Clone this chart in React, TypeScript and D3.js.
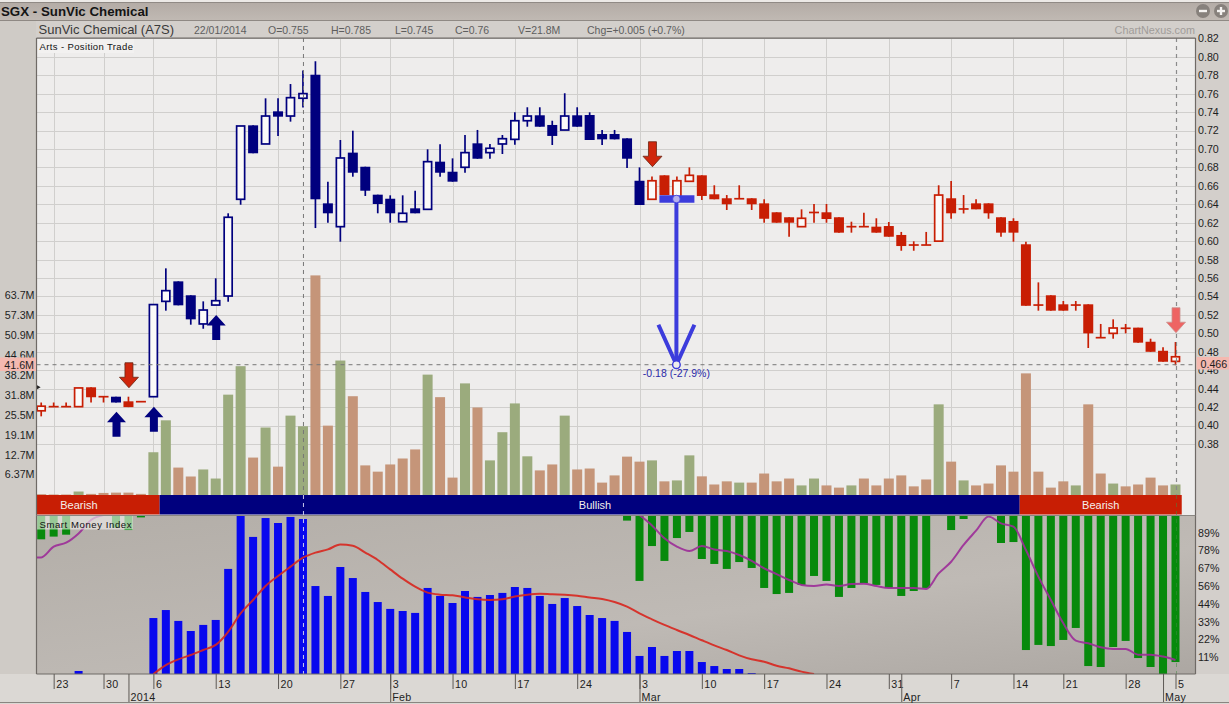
import React, { useEffect, useRef } from 'react';
import * as d3 from 'd3';

const width = 1229;
const height = 704;

// one entry per trading day, 20 Dec 2013 to 5 May 2014
const opens = [
  .416, .4205, .4205, .4205, .4415, .4313, .4313, .4263, .4259, .4313,
  .5347, .5564, .5413, .5102, .5307, .5405, .6454, .7256, .7054, .7408,
  .7357, .755, .7805, .641, .6157, .696, .6807, .6504, .646, .621,
  .6356, .6345, .6862, .6753, .6801, .7061, .696, .7054, .7104, .7306,
  .7365, .726, .7205, .7365, .7368, .7162, .7162, .7115, .6655, .6454,
  .6714, .648, .6649, .6714, .6508, .6465, .646, .6465, .641, .6313,
  .6259, .6157, .6311, .6313, .6259, .6157, .6157, .6157, .6164, .6067,
  .5958, .5958, .6, .6465, .6349, .641, .641, .6259, .6219, .5966,
  .5307, .5413, .5315, .5307, .5315, .4953, .5, .5055, .5062, .4909,
  .4811, .4696,
];
const highs = [
  .425, .425, .425, .4408, .4415, .4313, .4313, .4313, .4259, .5312,
  .5705, .5564, .5413, .5347, .5597, .6302, .7249, .7256, .7549, .7549,
  .7704, .785, .7951, .6645, .7097, .7198, .6807, .6504, .6497, .6497,
  .6547, .6996, .705, .6898, .7151, .7206, .7054, .7151, .7397, .7452,
  .7452, .7306, .7604, .7452, .7397, .7206, .7206, .7115, .68, .67,
  .6714, .67, .68, .6714, .6606, .65, .6606, .6465, .6454, .6313,
  .6259, .6345, .6403, .6403, .6259, .6211, .6309, .6248, .6208, .61,
  .5998, .61, .6606, .6652, .65, .6454, .641, .6259, .6248, .5994,
  .5553, .5413, .5351, .5351, .5315, .5102, .5152, .5102, .5062, .4942,
  .4849, .4906,
];
const lows = [
  .41, .4205, .4205, .4205, .425, .425, .425, .42, .4259, .4313,
  .5246, .5304, .5094, .505, .5307, .5343, .6395, .6953, .7054, .7141,
  .7296, .745, .6142, .62, .5994, .6699, .649, .6302, .62, .621,
  .6302, .6345, .6699, .6645, .6742, .6894, .6894, .6945, .7046, .7241,
  .7241, .7043, .7205, .7241, .7097, .7043, .7104, .6793, .6392, .6454,
  .65, .648, .6649, .6446, .6454, .6338, .646, .6338, .62, .62,
  .6048, .6157, .62, .62, .6092, .6092, .6157, .6092, .6048, .5896,
  .5896, .5958, .6, .6243, .63, .6345, .6243, .6048, .5994, .5299,
  .5246, .5246, .5246, .5246, .4841, .4953, .4942, .5, .4899, .48,
  .4692, .4654,
];
const closes = [
  .421, .4205, .4205, .4408, .4307, .4313, .425, .42, .4259, .5312,
  .5463, .5304, .5152, .5253, .5354, .6259, .7249, .6953, .7357, .735,
  .7556, .76, .6454, .6302, .6902, .6742, .6547, .6403, .6302, .6302,
  .6302, .6862, .6742, .6645, .696, .6894, .7007, .7111, .7306, .7357,
  .7241, .7141, .7357, .7241, .7097, .7104, .7104, .6894, .6392, .6655,
  .65, .6655, .6714, .649, .6454, .64, .646, .64, .6243, .62,
  .62, .6248, .6311, .624, .6092, .6157, .6157, .6092, .6048, .5947,
  .5958, .5958, .65, .6302, .6349, .6345, .6302, .6092, .6092, .5299,
  .5307, .5246, .5246, .5307, .5, .4953, .5058, .5055, .4899, .48,
  .4692, .4746,
];

// millions of shares
const volumes = [
  .1, 0, 0, .95, .2, .5, .6, .6, .2, 13.5,
  23.7, 8.6, 5.75, 8, 5.1, 31.9, 41, 11.8, 21.4, 8.9,
  25.2, 21.8, 70, 22, 42.8, 31.4, 9.3, 7.3, 9.6, 11.5,
  14.4, 38.3, 31.1, 5.4, 35.5, 27.8, 10.9, 19.9, 29.1, 12.2,
  7.7, 9.6, 25.2, 8, 8.3, 3.8, 6.1, 12.1, 10.5, 10.9,
  4.2, 4.5, 12.5, 5.8, 3.2, 4.2, 3.8, 3.8, 6.7, 4.2,
  5.1, 2.9, 5.1, 2.9, 2.2, 2.9, 5.1, 2.9, 5.1, 6.1,
  2.6, 4.8, 28.8, 10.5, 4.5, 2.9, 3.5, 9.3, 7.3, 38.7,
  7.3, 2.2, 4.2, 2.9, 28.8, 6.7, 3.5, 2.6, 3.2, 5.4,
  2.9, 3.2,
];
const greenVolumeDays = [3, 9, 10, 13, 14, 15, 16, 18, 20, 21, 24, 31, 34, 36, 37, 38, 39, 42, 49, 51, 52, 56, 61, 62, 65, 72, 74, 83, 86, 91];
const navyDays = [6, ...d3.range(9, 49)];

// smart money index, percent. Blue bars rise from 0, green bars hang from 100
const blueDays = [3, ...d3.range(9, 58)];
const blueValues = [
  2.5, 35.6, 40.6, 33.8, 27.5, 31.3, 34.4, 66.3, 100, 86.3,
  98.1, 95, 98.8, 97.5, 55.6, 49.4, 67.5, 60.6, 51.9, 45.6,
  41.3, 40, 38.8, 54.4, 49.4, 45, 52.5, 48.8, 50, 51.3,
  55, 54.4, 49.4, 44.4, 48.1, 43.1, 37.5, 35.6, 33.8, 26.9,
  11.9, 17.5, 11.9, 15, 15, 8.1, 5.6, 3.75, 3.75, 1.25,
];
const greenDays = [0, 1, 2, 6, 7, 8, ...d3.range(47, 72), 73, 74, 77, 78, ...d3.range(79, 92)];
const greenValues = [
  84.8, 86.5, 87.7, 92, 90.6, 98.5,
  96.5, 58.8, 80.6, 71.3, 85.6, 89.4, 72.5, 69.4, 66.3, 70.6,
  66.9, 54.4, 50.6, 51.3, 56.3, 61.9, 58.8, 48.8, 54.4, 57.5,
  56.3, 54.4, 49.4, 52.5, 54.4,
  90.6, 97.5, 82.5, 83.1,
  15.6, 18.8, 18.1, 21.9, 29.4, 5.6, 5, 17.5, 21.3, 10.6, 5, .6, 8.1,
];
const maDays = d3.range(9, 63);
const maValues = [
  .6, 6.2, 9.8, 12.5, 15.6, 18.8, 27, 38.5, 46.9, 55.6,
  61.9, 67.7, 73.3, 76.5, 78.5, 81.5, 80.8, 76.5, 71.9, 66,
  60.2, 55.2, 51.5, 50.2, 49.8, 48.5, 47.3, 46.9, 47.3, 49,
  50.2, 50.8, 50.4, 50.2, 49.6, 48.5, 47.5, 45.6, 42.7, 38.5,
  34.8, 31.3, 28.1, 25, 21.7, 18.5, 15.6, 12.3, 9.8, 8.3,
  5.8, 4.2, 2.1, .6,
];
const signalDaysA = [-0.4, 0, 1, 2, 3, 4, 5];
const signalValuesA = [73.5, 73.5, 80.2, 82.7, 88.5, 96.9, 100];
const signalDaysB = d3.range(48, 92);
const signalValuesB = [
  100, 93.5, 85.4, 80.2, 77.5, 80.6, 78.5, 77.5, 75, 71.3,
  66.7, 63.1, 59.4, 56.3, 55.6, 56.5, 55.6, 56.9, 57.1, 55.6,
  54.4, 54.4, 54.4, 53.8, 63.5, 70.8, 81.3, 90.2, 99, 94.8,
  92.7, 78.1, 61.5, 46.9, 32.3, 21.5, 19.8, 17.3, 16.3, 16.3,
  12.7, 12.7, 11.5, 9.4,
];

const priceTicks = d3.range(19, 41).map(d => d * 0.02).concat(0.82);
const volumeTicks = [6.37, 12.7, 19.1, 25.5, 31.8, 38.2, 44.6, 50.9, 57.3, 63.7];
const pctTicks = d3.range(1, 9).map(d => (d * 100) / 9);

const dayTicks = [1, 5, 9, 14, 19, 24, 28, 33, 38, 43, 48, 53, 58, 63, 68, 73, 78, 82, 87, 91];
const dayLabels = ['23', '30', '6', '13', '20', '27', '3', '10', '17', '24', '3', '10', '17', '24', '31', '7', '14', '21', '28', '5'];
const monthTicks = [7, 28, 48, 69, 90];
const monthLabels = ['2014', 'Feb', 'Mar', 'Apr', 'May'];

const trendNames = ['Bearish', 'Bullish', 'Bearish'];
const trendStarts = [-0.4, 9.5, 78.5];
const trendEnds = [9.5, 78.5, 91.5];

const buyArrowDays = [6, 9, 14];
const buyArrowPrices = [.415, .4204, .52];
const sellArrowDays = [7, 49, 91];
const sellArrowPrices = [.441, .6807, .5007];

const headerTexts = ['22/01/2014', 'O=0.755', 'H=0.785', 'L=0.745', 'C=0.76', 'V=21.8M', 'Chg=+0.005 (+0.7%)'];
const headerX = [194, 268, 331, 395, 455, 518, 587];

const FONT = '"Liberation Sans", Arial, sans-serif';
const RED = '#c81e04';
const NAVY = '#00007e';

const App: React.FC = () => {
  const svgRef = useRef<SVGSVGElement>(null);

  useEffect(() => {
    if (!svgRef.current) return;
    const svg = d3.select(svgRef.current);
    svg.selectAll('*').remove();

    const panelLeft = 36.5;
    const panelRight = 1195.5;

    const x = d3.scaleLinear().domain([0, 91]).range([41.2, 1175.5]);
    const y = d3.scaleLinear().domain([0.38, 0.82]).range([444, 38.3]);
    const yVol = d3.scaleLinear().domain([0, 70]).range([494.5, 275.4]);
    const yPct = d3.scaleLinear().domain([0, 100]).range([675, 515]);

    const defs = svg.append('defs');
    const titleGrad = defs.append('linearGradient').attr('id', 'title-bar').attr('x2', 0).attr('y2', 1);
    titleGrad.append('stop').attr('offset', 0).attr('stop-color', '#b4aca6');
    titleGrad.append('stop').attr('offset', 1).attr('stop-color', '#c0b9b3');
    const smiGrad = defs.append('linearGradient').attr('id', 'smi-bg').attr('x1', 0).attr('y1', 0).attr('x2', 1).attr('y2', 1);
    smiGrad.append('stop').attr('offset', 0).attr('stop-color', '#b3aea8');
    smiGrad.append('stop').attr('offset', 0.6).attr('stop-color', '#bfbab5');
    smiGrad.append('stop').attr('offset', 1).attr('stop-color', '#aca7a2');
    defs.append('clipPath').attr('id', 'smi-clip').append('rect')
      .attr('x', panelLeft).attr('y', 516).attr('width', panelRight - panelLeft).attr('height', 158);

    // window chrome
    svg.append('rect').attr('width', width).attr('height', height).attr('fill', '#dbd8d4');
    svg.append('rect').attr('x', 0).attr('y', 21).attr('width', panelLeft).attr('height', 653).attr('fill', '#cfcbc6');
    svg.append('rect').attr('x', 36).attr('y', 21).attr('width', width - 36).attr('height', 17).attr('fill', '#d3cfcb');
    svg.append('rect').attr('x', 1196).attr('y', 38).attr('width', 33).attr('height', 636).attr('fill', '#d3cfcb');
    svg.append('rect').attr('width', width).attr('height', 3).attr('fill', '#ece9e6');
    svg.append('line').attr('x1', 0).attr('x2', width).attr('y1', 2.5).attr('y2', 2.5).attr('stroke', '#908a85');
    svg.append('rect').attr('x', 0).attr('y', 3).attr('width', width).attr('height', 17).attr('fill', 'url(#title-bar)');
    svg.append('line').attr('x1', 0).attr('x2', width).attr('y1', 20.5).attr('y2', 20.5).attr('stroke', '#8f8984');
    svg.append('line').attr('x1', 0).attr('x2', width).attr('y1', 702.5).attr('y2', 702.5).attr('stroke', '#8a8580');

    [1203, 1221].forEach((cx, k) => {
      svg.append('circle').attr('cx', cx).attr('cy', 11).attr('r', 7).attr('fill', '#87817c');
      svg.append('line').attr('x1', cx - 4).attr('x2', cx + 4).attr('y1', 11).attr('y2', 11).attr('stroke', '#f4f2f0').attr('stroke-width', 2.4);
      if (k === 1) {
        svg.append('line').attr('x1', cx).attr('x2', cx).attr('y1', 7).attr('y2', 15).attr('stroke', '#f4f2f0').attr('stroke-width', 2.4);
      }
    });

    // plot panels
    svg.append('rect').attr('x', panelLeft).attr('y', 38).attr('width', panelRight - panelLeft).attr('height', 478).attr('fill', '#eeedec');
    svg.append('rect').attr('x', panelLeft).attr('y', 516).attr('width', panelRight - panelLeft).attr('height', 158).attr('fill', 'url(#smi-bg)');

    // grid
    const grid = svg.append('g').attr('stroke', '#d0cfcd').attr('stroke-width', 1);
    grid.selectAll('.h').data(priceTicks).enter().append('line')
      .attr('x1', panelLeft).attr('x2', panelRight)
      .attr('y1', d => Math.round(y(d)) + 0.5).attr('y2', d => Math.round(y(d)) + 0.5);
    grid.selectAll('.v').data(dayTicks.slice(0, -1)).enter().append('line')
      .attr('x1', d => Math.round(x(d)) + 0.5).attr('x2', d => Math.round(x(d)) + 0.5)
      .attr('y1', 38).attr('y2', 495);

    // volume
    const volColor = (i: number) => (greenVolumeDays.includes(i) ? '#9bab7d' : '#c59579');
    svg.append('g').selectAll('rect').data(volumes).enter().append('rect')
      .attr('x', (d, i) => x(i) - 5)
      .attr('width', 10)
      .attr('y', d => yVol(d))
      .attr('height', d => Math.max(0, 495 - yVol(d)))
      .attr('fill', (d, i) => volColor(i));

    // candles
    const candleColor = (i: number) => (navyDays.includes(i) ? NAVY : RED);
    const candles = svg.append('g').selectAll('g').data(opens).enter().append('g');
    candles.append('line')
      .attr('x1', (d, i) => x(i)).attr('x2', (d, i) => x(i))
      .attr('y1', (d, i) => y(highs[i])).attr('y2', (d, i) => y(lows[i]))
      .attr('stroke', (d, i) => candleColor(i)).attr('stroke-width', 1.7);
    candles.each(function (o, i) {
      const c = closes[i];
      const g = d3.select(this);
      const top = y(Math.max(o, c));
      const bottom = y(Math.min(o, c));
      if (c > o) {
        // up day, hollow body
        g.append('rect').attr('x', x(i) - 4).attr('width', 8).attr('y', top).attr('height', bottom - top)
          .attr('fill', '#fbfaf9').attr('stroke', candleColor(i)).attr('stroke-width', 1.7);
      } else if (c === o) {
        g.append('line').attr('x1', x(i) - 5).attr('x2', x(i) + 5).attr('y1', top).attr('y2', top)
          .attr('stroke', candleColor(i)).attr('stroke-width', 1.7);
      } else {
        g.append('rect').attr('x', x(i) - 5).attr('width', 10).attr('y', top).attr('height', bottom - top)
          .attr('fill', candleColor(i));
      }
    });

    // trend band
    const band = svg.append('g');
    trendNames.forEach((name, k) => {
      band.append('rect').attr('x', x(trendStarts[k])).attr('width', x(trendEnds[k]) - x(trendStarts[k]))
        .attr('y', 495).attr('height', 19.5).attr('fill', name === 'Bullish' ? NAVY : RED);
      band.append('text').attr('x', k === 1 ? 595 : (x(trendStarts[k]) + x(trendEnds[k])) / 2 - (k === 0 ? 19 : 0)).attr('y', 505)
        .attr('text-anchor', 'middle').attr('dominant-baseline', 'central')
        .attr('font-family', FONT).attr('font-size', 11).attr('fill', '#f4efec').text(name);
    });

    // smart money bars and lines
    const smi = svg.append('g').attr('clip-path', 'url(#smi-clip)');
    smi.selectAll('.blue').data(blueValues).enter().append('rect')
      .attr('x', (d, i) => x(blueDays[i]) - 4).attr('width', 8)
      .attr('y', d => yPct(d)).attr('height', d => 674 - yPct(d))
      .attr('fill', '#0808ee');
    smi.selectAll('.green').data(greenValues).enter().append('rect')
      .attr('x', (d, i) => x(greenDays[i]) - 4).attr('width', 8)
      .attr('y', 516).attr('height', d => yPct(d) - 516)
      .attr('fill', '#078a0c');

    const drawLine = (days: number[], vals: number[], color: string) => {
      const path = d3.line<number>()
        .x(d => x(d))
        .y((d, k) => yPct(vals[k]))
        .curve(d3.curveMonotoneX)(days);
      smi.append('path').attr('d', path).attr('fill', 'none').attr('stroke', color)
        .attr('stroke-width', 2).attr('stroke-opacity', 0.9);
    };
    drawLine(maDays, maValues, '#d8261e');
    drawLine(signalDaysA, signalValuesA, '#9c2c98');
    drawLine(signalDaysB, signalValuesB, '#9c2c98');

    const smiLabel = svg.append('g');
    smiLabel.append('rect').attr('x', 37).attr('y', 516).attr('width', 96).attr('height', 13.5)
      .attr('fill', '#f2f0ee').attr('fill-opacity', 0.62);
    smiLabel.append('text').attr('x', 39.5).attr('y', 524).attr('dominant-baseline', 'central')
      .attr('font-family', FONT).attr('font-size', 9.5).attr('letter-spacing', 0.6).attr('fill', '#111').text('Smart Money Index');

    // cursor
    const cursor = svg.append('g').attr('stroke-dasharray', '4 4').attr('fill', 'none');
    cursor.append('line').attr('x1', panelLeft).attr('x2', panelRight).attr('y1', y(0.466)).attr('y2', y(0.466))
      .attr('stroke', '#777');
    cursor.append('line').attr('x1', x(21) + 0.5).attr('x2', x(21) + 0.5).attr('y1', 38).attr('y2', 495).attr('stroke', '#777');
    cursor.append('line').attr('x1', x(21) + 0.5).attr('x2', x(21) + 0.5).attr('y1', 495).attr('y2', 674).attr('stroke', '#c8c8ee');
    cursor.append('line').attr('x1', x(91) + 1).attr('x2', x(91) + 1).attr('y1', 38).attr('y2', 495).attr('stroke', '#8b8b8b').attr('stroke-width', 1.2);
    cursor.append('line').attr('x1', x(91) + 1).attr('x2', x(91) + 1).attr('y1', 495).attr('y2', 674).attr('stroke', '#3f8a3f').attr('stroke-opacity', 0.5);

    // signal arrows, tip sits on the price
    const arrowPath = (dir: number) =>
      `M0,0L${9.5},${dir * 10.5}L4,${dir * 10.5}L4,${dir * 25}L-4,${dir * 25}L-4,${dir * 10.5}L-9.5,${dir * 10.5}Z`;
    svg.append('g').selectAll('path').data(buyArrowDays).enter().append('path')
      .attr('d', arrowPath(1))
      .attr('transform', (d, k) => `translate(${x(d) + 0.5},${y(buyArrowPrices[k])})`)
      .attr('fill', NAVY);
    svg.append('g').selectAll('path').data(sellArrowDays).enter().append('path')
      .attr('d', arrowPath(-1))
      .attr('transform', (d, k) => `translate(${x(d) + 0.5},${y(sellArrowPrices[k])})`)
      .attr('fill', (d, k) => (k === 2 ? '#ee6463' : '#d0260c'))
      .attr('stroke', (d, k) => (k === 2 ? '#c9938f' : '#6a2412'))
      .attr('stroke-width', 0.8);

    // stray marker on the left edge of the price panel
    svg.append('path').attr('d', d3.symbol().type(d3.symbolTriangle).size(9)()!)
      .attr('transform', `translate(38,${y(0.4415)}) rotate(90)`).attr('fill', '#222');

    // measured move
    const moveX = x(51) - 0.5;
    const moveColor = '#3c3cdc';
    const moveTop = y(0.6457);
    const moveBottom = y(0.466);
    const move = svg.append('g').attr('stroke', moveColor).attr('fill', 'none');
    move.append('line').attr('x1', moveX - 17).attr('x2', moveX + 18).attr('y1', moveTop).attr('y2', moveTop).attr('stroke-width', 7.5);
    move.append('line').attr('x1', moveX).attr('x2', moveX).attr('y1', moveTop).attr('y2', moveBottom).attr('stroke-width', 4);
    move.append('path').attr('d', `M${moveX - 18},${moveBottom - 40}L${moveX},${moveBottom}L${moveX + 18},${moveBottom - 40}`).attr('stroke-width', 4);
    move.append('circle').attr('cx', moveX).attr('cy', moveTop).attr('r', 3.8).attr('fill', '#b5b0ee').attr('stroke-width', 0.8);
    move.append('circle').attr('cx', moveX).attr('cy', moveBottom).attr('r', 3.8).attr('fill', '#eeedec').attr('stroke-width', 1.4);
    svg.append('text').attr('x', moveX).attr('y', 373).attr('text-anchor', 'middle').attr('dominant-baseline', 'central')
      .attr('font-family', FONT).attr('font-size', 10.5).attr('fill', '#2a2aa8').text('-0.18 (-27.9%)');

    // panel frame
    const frame = svg.append('g').attr('stroke', '#6f6a66').attr('stroke-width', 1.2);
    frame.append('line').attr('x1', panelLeft).attr('x2', panelRight).attr('y1', 38.2).attr('y2', 38.2);
    frame.append('line').attr('x1', panelLeft).attr('x2', panelLeft).attr('y1', 38).attr('y2', 674);
    frame.append('line').attr('x1', panelRight).attr('x2', panelRight).attr('y1', 38).attr('y2', 674);
    frame.append('line').attr('x1', panelLeft).attr('x2', panelRight).attr('y1', 515.5).attr('y2', 515.5).attr('stroke', '#8a8682');
    frame.append('line').attr('x1', panelLeft).attr('x2', panelRight).attr('y1', 674).attr('y2', 674);

    // axes
    const styleAxis = (g: any) => {
      g.select('.domain').remove();
      g.selectAll('text').attr('font-family', FONT).attr('font-size', 10.7).attr('fill', '#1e1e1e');
    };
    const priceAxis = svg.append('g').attr('transform', `translate(${panelRight},0)`)
      .call(d3.axisRight(y).tickValues(priceTicks).tickSize(0).tickPadding(2.5).tickFormat(d3.format('.2f')) as any);
    styleAxis(priceAxis);
    const pctAxis = svg.append('g').attr('transform', `translate(${panelRight},0)`)
      .call(d3.axisRight(yPct).tickValues(pctTicks).tickSize(0).tickPadding(2.5).tickFormat(d => `${d3.format('.0f')(d as number)}%`) as any);
    styleAxis(pctAxis);
    const volAxis = svg.append('g').attr('transform', `translate(${panelLeft - 2},0)`)
      .call(d3.axisLeft(yVol).tickValues(volumeTicks).tickSize(0).tickPadding(0).tickFormat(d => `${d}M`) as any);
    styleAxis(volAxis);

    const dayAxis = svg.append('g').attr('transform', 'translate(0,674)')
      .call(d3.axisBottom(x).tickValues(dayTicks).tickSize(15).tickFormat((d, k) => dayLabels[k]) as any);
    styleAxis(dayAxis);
    dayAxis.selectAll('line').attr('stroke', '#5d5955');
    dayAxis.selectAll('text').attr('text-anchor', 'start').attr('x', 2).attr('y', 10).attr('dy', '0.35em').attr('letter-spacing', 0.3);

    const monthAxis = svg.append('g').attr('transform', 'translate(0,674)')
      .call(d3.axisBottom(x).tickValues(monthTicks).tickSize(28).tickFormat((d, k) => monthLabels[k]) as any);
    styleAxis(monthAxis);
    monthAxis.selectAll('line').attr('stroke', '#5d5955');
    monthAxis.selectAll('text').attr('text-anchor', 'start').attr('x', 1.5).attr('y', 23).attr('dy', '0.35em').attr('letter-spacing', 0.3);

    // cursor read-outs
    const readouts = svg.append('g');
    readouts.append('rect').attr('x', 0).attr('y', 357.5).attr('width', 36).attr('height', 13.5).attr('fill', '#f4b9b0');
    readouts.append('text').attr('x', 34).attr('y', 364.5).attr('text-anchor', 'end').attr('dominant-baseline', 'central')
      .attr('font-family', FONT).attr('font-size', 10.7).attr('fill', '#1e1e1e').text('41.6M');
    readouts.append('rect').attr('x', 1196.5).attr('y', 357).attr('width', 32.5).attr('height', 12.5).attr('fill', '#f4b9b0');
    readouts.append('text').attr('x', 1200.5).attr('y', 364).attr('dominant-baseline', 'central')
      .attr('font-family', FONT).attr('font-size', 10.7).attr('fill', '#1e1e1e').text('0.466');

    // header texts
    svg.append('text').attr('x', 1).attr('y', 11.5).attr('dominant-baseline', 'central')
      .attr('font-family', FONT).attr('font-size', 13.3).attr('font-weight', 700).attr('fill', '#141414').text('SGX - SunVic Chemical');
    svg.append('text').attr('x', 38.5).attr('y', 29.5).attr('dominant-baseline', 'central')
      .attr('font-family', FONT).attr('font-size', 13).attr('fill', '#3a3a3a').text('SunVic Chemical (A7S)');
    svg.append('g').selectAll('text').data(headerTexts).enter().append('text')
      .attr('x', (d, k) => headerX[k]).attr('y', 30).attr('dominant-baseline', 'central')
      .attr('font-family', FONT).attr('font-size', 10.5).attr('fill', '#5e5e5e').text(d => d);
    svg.append('text').attr('x', 1195).attr('y', 30).attr('text-anchor', 'end').attr('dominant-baseline', 'central')
      .attr('font-family', FONT).attr('font-size', 10.8).attr('fill', '#a09c99').text('ChartNexus.com');

    svg.append('rect').attr('x', 38).attr('y', 39).attr('width', 96).attr('height', 14).attr('fill', '#f2f1f0');
    svg.append('text').attr('x', 39.5).attr('y', 46.5).attr('dominant-baseline', 'central')
      .attr('font-family', FONT).attr('font-size', 9.5).attr('letter-spacing', 0.37).attr('fill', '#111').text('Arts - Position Trade');
  }, []);

  return (
    <svg
      ref={svgRef}
      width={width}
      height={height}
      style={{ position: 'absolute', left: 0, top: 0, display: 'block' }}
    />
  );
};

export default App;
